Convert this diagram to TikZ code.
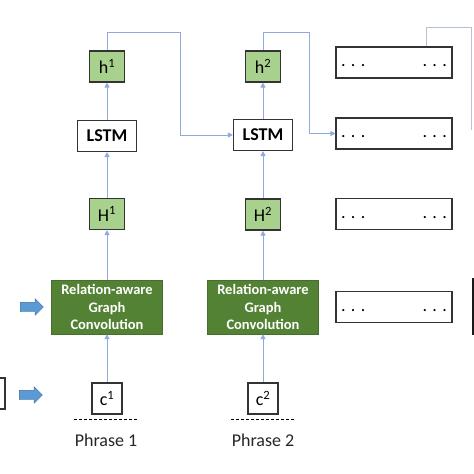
\documentclass[tikz,border=0pt]{standalone}
\usepackage{fontspec}
\setmainfont{Carlito}
\usetikzlibrary{arrows.meta,shapes.arrows}
\definecolor{lgreen}{HTML}{A9D18E}
\definecolor{dgreen}{HTML}{548235}
\definecolor{lnblue}{HTML}{8FAADC}
\definecolor{lngrey}{HTML}{B4C4D6}
\definecolor{blkblue}{HTML}{5B9BD5}
\definecolor{bord}{HTML}{333333}

\begin{document}
\begin{tikzpicture}[x=1pt,y=-1pt,
hb/.style={draw=bord,line width=1.1pt,fill=lgreen,minimum width=35pt,minimum height=31pt,inner sep=0pt,font=\fontsize{18}{20}\selectfont},
lstm/.style={draw=bord,line width=1.1pt,fill=white,minimum width=59pt,minimum height=31pt,inner sep=0pt,font=\fontsize{18}{20}\selectfont\bfseries},
rgc/.style={draw=dgreen!85!black,fill=dgreen,text=white,minimum width=111pt,minimum height=54pt,inner sep=0pt,align=center,font=\fontsize{14.5}{17.5}\selectfont\bfseries},
cb/.style={draw=bord,line width=1.1pt,fill=white,minimum width=30pt,minimum height=31pt,inner sep=0pt,font=\fontsize{18}{20}\selectfont},
db/.style={draw=bord,line width=1.1pt,minimum width=116pt,minimum height=31pt,inner sep=0pt,font=\fontsize{18}{20}\selectfont},
ln/.style={-{Triangle[length=5pt,width=5pt]},draw=lnblue,line width=0.9pt},
blk/.style={single arrow,draw=blkblue!70!black,fill=blkblue,minimum height=23pt,minimum width=16pt,inner sep=4.5pt,single arrow head extend=3.5pt},
lbl/.style={font=\fontsize{18}{20}\selectfont,text=black!85}]
\clip (0,0) rectangle (474,474);
% column 1
\node[hb](h1) at (107,66.5){h\textsuperscript{1}};
\node[lstm](lstm1) at (107,136){LSTM};
\node[hb](H1) at (107,214){H\textsuperscript{1}};
\node[rgc](g1) at (107,307){Relation-aware\\Graph\\Convolution};
\node[cb](c1) at (107,398.5){c\textsuperscript{1}};
\node[lbl](p1) at (106,440){Phrase 1};
% column 2
\node[hb](h2) at (263,66.5){h\textsuperscript{2}};
\node[lstm](lstm2) at (263,135){LSTM};
\node[hb](H2) at (263,214.5){H\textsuperscript{2}};
\node[rgc](g2) at (263,307){Relation-aware\\Graph\\Convolution};
\node[cb](c2) at (263,398.5){c\textsuperscript{2}};
\node[lbl](p2) at (263,440){Phrase 2};
% column 3
\foreach \n/\y in {d1/62.5,d2/133.5,d3/214,d4/307}{\node[db](\n) at (394,\y){\strut. . .\hspace{57pt}. . .};}
% cut-off boxes at the edges
\node[cb,minimum width=40pt](c0) at (-15,393.5){};
\node[draw=black!90,line width=2pt,minimum width=40pt,minimum height=55pt](r4) at (493,306.5){};
\node[blk](a1) at (29.5,307){};
\node[blk](a2) at (28.5,395){};
% dashed base lines
\draw[dashed,line width=0.9pt,dash pattern=on 3pt off 2pt](74,419)--(137,419);
\draw[dashed,line width=0.9pt,dash pattern=on 3pt off 2pt](231,419)--(294,419);
% connectors
\foreach \i in {1,2}{
\draw[ln](c\i)--(g\i);
\draw[ln](g\i)--(H\i);
\draw[ln](H\i)--(lstm\i);
\draw[ln](lstm\i)--(h\i);}
\coordinate (t1) at (180,32);
\coordinate (t2) at (309,32);
\coordinate (t3) at (471,27);
\coordinate (e3) at (471,130);
\draw[ln](h1.north)|-(t1)|-(lstm2.west);
\draw[ln](h2.north)|-(t2)|-(d2.west);
\draw[draw=lngrey,line width=0.9pt]([xshift=32pt]d1.north)|-(t3)--(e3);
\end{tikzpicture}
\end{document}
